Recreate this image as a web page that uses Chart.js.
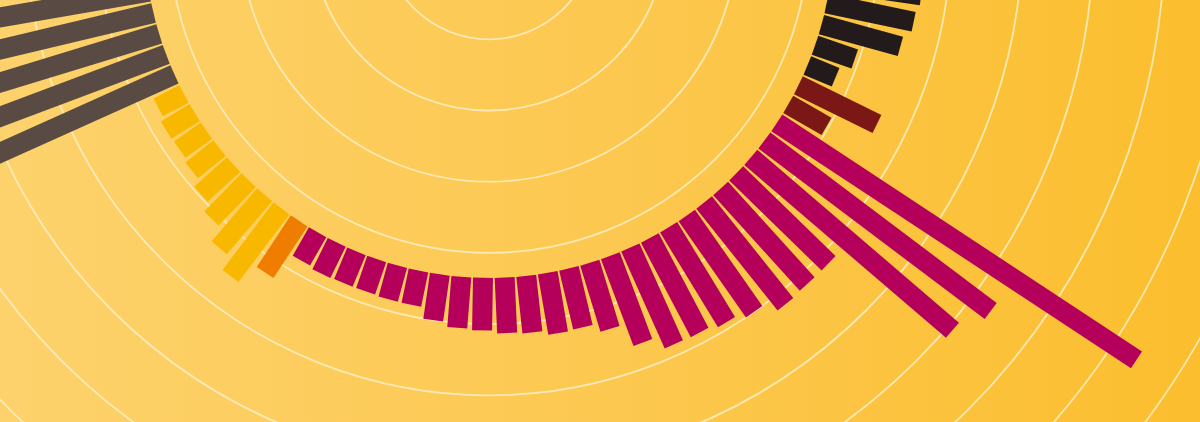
<!DOCTYPE html>
<html>
<head>
<meta charset="utf-8">
<script src="https://cdn.jsdelivr.net/npm/chart.js@4.4.1/dist/chart.umd.min.js"></script>
<style>
  html, body { margin: 0; padding: 0; }
  #wrap {
    position: relative; width: 1200px; height: 422px; overflow: hidden;
    background: linear-gradient(to right, #FDD26C 0%, #FCC850 50%, #FBBE2E 100%);
  }
  #c { position: absolute; left: -711px; top: -1267px; }
</style>
</head>
<body>
<div id="wrap"><canvas id="c" width="2400" height="2400"></canvas></div>
<script>
// ---- data (bar lengths, in scale units, measured from the inner ring) ----
const blackValues   = [12.9, 12.5, 11.5, 5.9, 4.3];
const darkRedValues = [12.3, 6.2];
const magentaValues = [60.5, 39.8, 37.3, 18.1, 18.1, 18.3, 16.5, 15.6, 15.0, 14.9, 13.0,
                       9.7, 8.5, 8.6, 8.0, 7.8, 7.4, 7.2, 6.5, 4.9, 4.9, 4.8, 4.8, 4.9, 4.6];
const orangeValues  = [8.7];
const yellowValues  = [11.9, 9.8, 7.5, 6.2, 5.0, 4.6, 4.7, 4.1];
const greyValues    = [62, 58, 60, 56, 54, 58];

const groups = [
  { values: blackValues,   color: '#231A1C' },
  { values: darkRedValues, color: '#7B1715' },
  { values: magentaValues, color: '#B5005B' },
  { values: orangeValues,  color: '#EE7D00' },
  { values: yellowValues,  color: '#F9B800' },
  { values: greyValues,    color: '#594B43' }
];

// ---- scale / layout constants ----
const BASE = 33.5;          // value of the inner ring
const SCALE_MIN = -14.93;
const SCALE_MAX = 153.61;
const STEP_DEG = 3.6;       // angular width of one slot
const START_DEG = 96.4;     // start angle of first slot (0 = 12 o'clock)
const BAR_W = 20;           // bar thickness in px

const values = [], colors = [], labels = [];
groups.forEach(g => g.values.forEach(v => {
  values.push(BASE + v);
  colors.push(g.color);
  labels.push(String(labels.length + 1));
}));

const radialRects = {
  id: 'radialRects',
  beforeDatasetDraw(chart, args) {
    const scale = chart.scales.r;
    const ctx = chart.ctx;
    const r0 = scale.getDistanceFromCenterForValue(BASE);
    args.meta.data.forEach(arc => {
      const mid = (arc.startAngle + arc.endAngle) / 2;
      ctx.save();
      ctx.translate(arc.x, arc.y);
      ctx.rotate(mid);
      ctx.fillStyle = arc.options.backgroundColor;
      ctx.fillRect(r0, -BAR_W / 2, arc.outerRadius - r0, BAR_W);
      ctx.restore();
    });
    return false;
  }
};

new Chart(document.getElementById('c'), {
  type: 'polarArea',
  data: {
    labels: labels,
    datasets: [{
      data: values,
      backgroundColor: colors,
      borderWidth: 0,
      angle: STEP_DEG
    }]
  },
  options: {
    responsive: false,
    animation: false,
    events: [],
    layout: { padding: 0 },
    plugins: { legend: { display: false }, tooltip: { enabled: false } },
    scales: {
      r: {
        type: 'radialLinear',
        min: SCALE_MIN,
        max: SCALE_MAX,
        startAngle: START_DEG,
        ticks: { display: false, stepSize: 10 },
        grid: { circular: true, color: 'rgba(255,238,196,0.85)', lineWidth: 1.8 },
        angleLines: { display: false },
        pointLabels: { display: false }
      }
    }
  },
  plugins: [radialRects]
});
</script>
</body>
</html>
